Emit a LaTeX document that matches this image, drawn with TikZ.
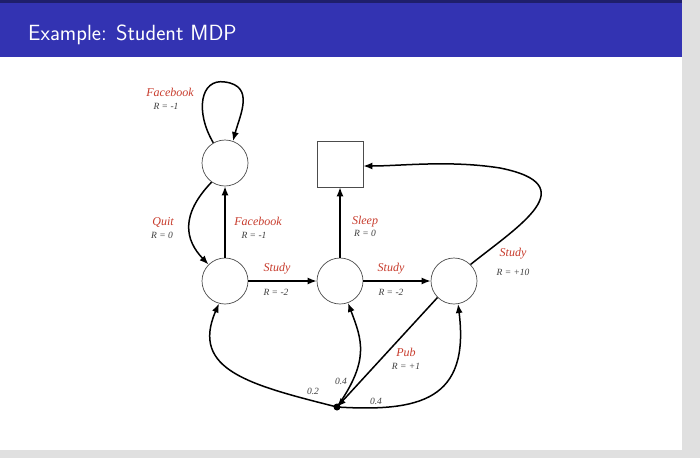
\documentclass[tikz,border=0pt]{standalone}
\usepackage{fontspec}
\setmainfont{Liberation Serif}
\newfontfamily\titlefont{Latin Modern Sans}
\usetikzlibrary{arrows.meta}
\definecolor{bar}{RGB}{51,51,178}
\definecolor{lab}{RGB}{200,60,45}
\tikzset{x=1pt,y=-1pt,
 st/.style={circle,draw=black!70,line width=0.7pt,minimum size=46pt,inner sep=0},
 term/.style={rectangle,draw=black!70,line width=0.7pt,minimum size=46pt,inner sep=0},
 ed/.style={line width=1.5pt,-{Latex[length=9pt,width=7pt]}},
 act/.style={text=lab,font=\itshape\fontsize{12}{13}\selectfont,inner sep=0},
 rw/.style={font=\itshape\fontsize{9.5}{10}\selectfont,inner sep=0,text=black!75},
 pr/.style={font=\itshape\fontsize{9.5}{10}\selectfont,inner sep=0,text=black!75}}
\begin{document}
\begin{tikzpicture}
\useasboundingbox (0,0) rectangle (700,458);
\fill[white] (0,0) rectangle (700,458);
\fill[black!12] (682,0) rectangle (700,458);
\fill[black!12] (0,450) rectangle (700,458);
\fill[bar] (0,0) rectangle (682,57);
\fill[bar!60!black] (0,0) rectangle (682,3);
\node[anchor=west,text=white,font=\titlefont\fontsize{22}{24}\selectfont,inner sep=0] (title) at (28,35) {Example: Student MDP};

\node[st] (fb) at (225,163) {};
\node[st] (c1) at (225,281) {};
\node[st] (c2) at (340,281) {};
\node[st] (c3) at (454,281) {};
\node[term] (sl) at (340,164) {};
\fill (337,407) circle (3.5pt);
\coordinate (dot) at (337,407);

\draw[ed] (fb.120) .. controls (195,112) and (200,78) .. (225,82) .. controls (255,86) and (240,115) .. (fb.70);
\draw[ed] (fb.235) .. controls (180,215) and (185,240) .. (c1.135);
\draw[ed] (c1) -- (fb);
\draw[ed] (c1) -- (c2);
\draw[ed] (c2) -- (c3);
\draw[ed] (c2) -- (sl);
\draw[ed] (c3.45) .. controls (520,225) and (585,185) .. (500,168) .. controls (450,160) and (400,166) .. (sl.east |- 0,166);
\draw[ed] (c3.225) -- (dot);
\draw[ed] (dot) .. controls (250,385) and (190,370) .. (c1.255);
\draw[ed] (dot) .. controls (370,360) and (362,340) .. (c2.290);
\draw[ed] (dot) .. controls (420,412) and (470,400) .. (c3.280);

\node[act] (l1) at (170,92) {Facebook};
\node[rw] (r1) at (166,106) {R = -1};
\node[act] (l2) at (163,222) {Quit};
\node[rw] (r2) at (162,235) {R = 0};
\node[act] (l3) at (258,221) {Facebook};
\node[rw] (r3) at (254,235) {R = -1};
\node[act] (l4) at (277,269) {Study};
\node[rw] (r4) at (276,292) {R = -2};
\node[act] (l5) at (365,222) {Sleep};
\node[rw] (r5) at (365,233) {R = 0};
\node[act] (l6) at (391,269) {Study};
\node[rw] (r6) at (391,292) {R = -2};
\node[act] (l7) at (513,254) {Study};
\node[rw] (r7) at (513,272) {R = +10};
\node[act] (l8) at (406,352) {Pub};
\node[rw] (r8) at (406,366) {R = +1};
\node[pr] (p1) at (341,381) {0.4};
\node[pr] (p2) at (313,391) {0.2};
\node[pr] (p3) at (376,401) {0.4};
\end{tikzpicture}
\end{document}
